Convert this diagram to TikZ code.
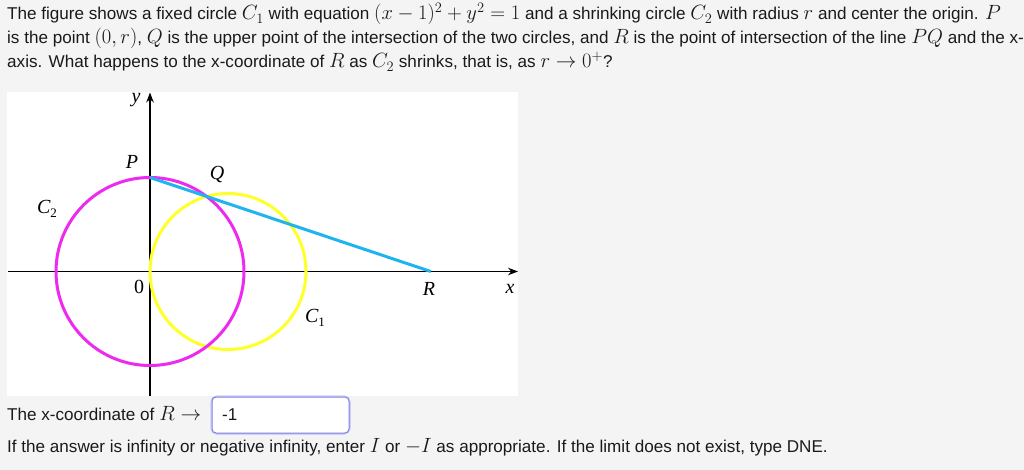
\RequirePackage{fix-cm}
\documentclass[tikz,border=0pt]{standalone}
\usepackage[no-math]{fontspec}
\setmainfont{Liberation Sans}
\newfontfamily\tms{Liberation Serif}
\usetikzlibrary{arrows.meta}
\definecolor{bg}{HTML}{F4F4F4}
\definecolor{ink}{HTML}{1A1A1A}
\definecolor{mag}{HTML}{EE2AEE}
\definecolor{yel}{HTML}{FFFF2A}
\definecolor{sky}{HTML}{20B4EE}
\definecolor{boxc}{HTML}{7E7EDE}
\definecolor{glow}{HTML}{D0D0F6}
\newcommand{\mm}[1]{{\fontsize{20.6}{21}\selectfont$#1$}}
\begin{document}
\begin{tikzpicture}[x=1pt,y=-1pt,
  txt/.style={anchor=base west,inner sep=0pt,font=\fontsize{17.1}{19}\selectfont,text=ink},
  lab/.style={inner sep=0pt,font=\fontsize{20}{21}\selectfont\tms\itshape,text=black},
  axisline/.style={line width=1.4pt,black,-{Stealth[length=10pt,width=7.5pt]}},
  circ/.style={line width=3pt},
  seg/.style={line width=3pt,sky}]
\useasboundingbox (0,0) rectangle (1024,470);
\fill[bg] (0,0) rectangle (1024,470);
\fill[white] (7,92) rectangle (518,396);
% question text
\node[txt] (t1) at (7,20) {The figure shows a fixed circle \mm{C_1} with equation \mm{(x-1)^2+y^2=1} and a shrinking circle \mm{C_2} with radius \mm{r} and center the origin. \mm{P}};
\node[txt] (t2) at (7,44) {is the point \mm{(0,r)}, \mm{Q} is the upper point of the intersection of the two circles, and \mm{R} is the point of intersection of the line \mm{PQ} and the x-};
\node[txt] (t3) at (7,68) {axis. What happens to the x-coordinate of \mm{R} as \mm{C_2} shrinks, that is, as \mm{r\to0^+}?};
% geometry
\coordinate (O) at (150,271.5);
\coordinate (C1c) at (228,271.5);
\coordinate (P) at (150,177.5);
\coordinate (Q) at (206.2,196.6);
\coordinate (R) at (430.8,271.5);
\coordinate (xs) at (8,271.5);
\coordinate (xe) at (518,271.5);
\coordinate (ys) at (150,396);
\coordinate (ye) at (150,92.5);
\draw[axisline] (xs) -- (xe);
\draw[axisline] (ys) -- (ye);
\draw[circ,yel] (C1c) circle[radius=78pt];
\draw[circ,mag] (O) circle[radius=94pt];
\draw[seg] (P) -- (R);
% labels
\node[lab] (ly) at (136,100) {y};
\node[lab] (lP) at (132,162) {P};
\node[lab] (lQ) at (217,175) {Q};
\node[lab] (lC2) at (47,209) {C\raisebox{-4pt}{\fontsize{13}{13}\selectfont\upshape 2}};
\node[lab,font=\fontsize{20}{21}\selectfont\tms] (l0) at (139,287) {0};
\node[lab] (lR) at (429,289) {R};
\node[lab] (lx) at (510,289) {x};
\node[lab] (lC1) at (315,318) {C\raisebox{-4pt}{\fontsize{13}{13}\selectfont\upshape 1}};
% answer
\node[txt] (b1) at (7,420) {The x-coordinate of \mm{R\to}};
\draw[glow,line width=3.5pt,rounded corners=5pt] (212,397) rectangle (349,433);
\node[draw=boxc,line width=1pt,fill=white,rounded corners=4pt,minimum width=137pt,minimum height=36pt,inner sep=0pt] (box) at (280.5,415) {};
\node[txt] (ans) at (222,420) {-1};
\node[txt] (b2) at (7,452) {If the answer is infinity or negative infinity, enter \mm{I} or \mm{-I} as appropriate. If the limit does not exist, type DNE.};
\end{tikzpicture}
\end{document}
